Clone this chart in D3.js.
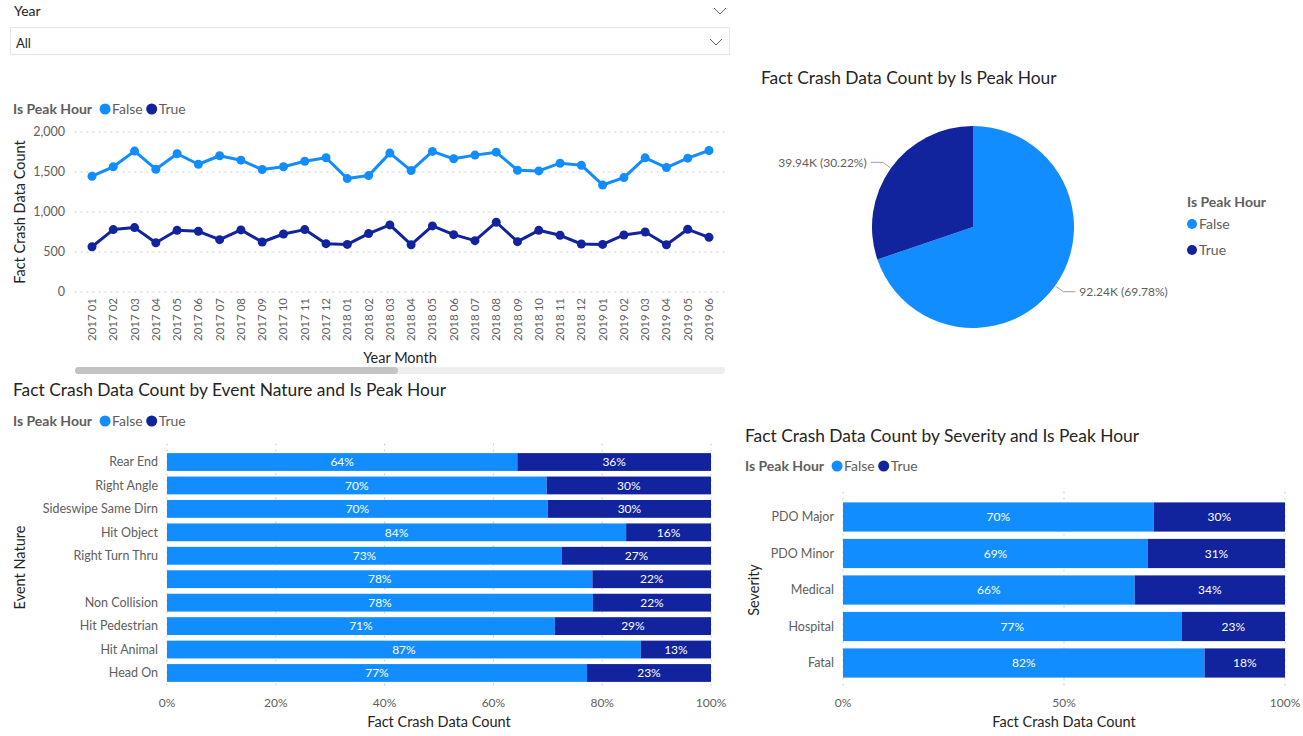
<!DOCTYPE html>
<html>
<head>
<meta charset="utf-8">
<script src="https://cdn.jsdelivr.net/npm/d3@7"></script>
<style>
  html, body { margin: 0; padding: 0; background: #fff; }
  svg { display: block; font-family: "Segoe UI", Lato, "Open Sans", sans-serif; }
</style>
</head>
<body>
<svg id="c" width="1303" height="736"></svg>
<script>
// ---------- DATA ----------
const months = ["2017 01","2017 02","2017 03","2017 04","2017 05","2017 06","2017 07","2017 08","2017 09","2017 10","2017 11","2017 12",
  "2018 01","2018 02","2018 03","2018 04","2018 05","2018 06","2018 07","2018 08","2018 09","2018 10","2018 11","2018 12",
  "2019 01","2019 02","2019 03","2019 04","2019 05","2019 06"];
const falseCounts = [1447,1565,1761,1535,1728,1597,1703,1648,1531,1565,1635,1678,
  1418,1455,1736,1518,1757,1665,1711,1748,1522,1514,1610,1585,
  1338,1430,1677,1556,1673,1769];
const trueCounts = [566,780,805,616,771,759,654,776,625,725,780,604,
  595,730,839,591,826,717,642,872,629,771,709,600,
  595,713,750,591,784,683];
const yTicks = [0,500,1000,1500,2000];

const peakLabels = ["False","True"];
const pieValues = [92240, 39940];

const eventNature = ["Rear End","Right Angle","Sideswipe Same Dirn","Hit Object","Right Turn Thru","","Non Collision","Hit Pedestrian","Hit Animal","Head On"];
const eventFalseShare = [0.644,0.698,0.700,0.844,0.726,0.782,0.783,0.713,0.871,0.772];
const eventTrueShare  = [0.356,0.302,0.300,0.156,0.274,0.218,0.217,0.287,0.129,0.228];
const eventTicks = [0,0.2,0.4,0.6,0.8,1];

const severity = ["PDO Major","PDO Minor","Medical","Hospital","Fatal"];
const sevFalseShare = [0.703,0.690,0.660,0.766,0.818];
const sevTrueShare  = [0.297,0.310,0.340,0.234,0.182];
const sevTicks = [0,0.5,1];

// ---------- STYLE ----------
const C_FALSE = "#118DFF", C_TRUE = "#12239E";
const colors = [C_FALSE, C_TRUE];
const DARK = "#252423", GREY = "#605E5C", GRID = "#C8C8C8";
const TITLE_SIZE = 17.4, LEG_SIZE = 14;

const svg = d3.select("#c");

// ---------- SLICER ----------
function chevron(x, y) {
  svg.append("path").attr("d", `M${x-6},${y-3} L${x},${y+3} L${x+6},${y-3}`)
    .attr("fill","none").attr("stroke","#605E5C").attr("stroke-width",1);
}
svg.append("text").attr("x",14).attr("y",16).attr("fill",DARK).attr("font-size",14).text("Year");
chevron(720, 11);
svg.append("rect").attr("x",10.5).attr("y",27.5).attr("width",719).attr("height",27)
  .attr("fill","#fff").attr("stroke","#E6E6E6");
svg.append("text").attr("x",16).attr("y",48).attr("fill",DARK).attr("font-size",13).text("All");
chevron(716, 42);

// ---------- LEGEND helper ----------
function legend(x, y) {
  const g = svg.append("g").attr("transform",`translate(${x},${y})`);
  const t0 = g.append("text").attr("x",0).attr("y",0).attr("dy","0.35em").attr("font-size",LEG_SIZE)
    .attr("font-weight","bold").attr("fill",GREY).text("Is Peak Hour");
  const w = t0.node().getComputedTextLength();
  let cx = w + 13;
  peakLabels.forEach((lab, i) => {
    g.append("circle").attr("cx",cx).attr("cy",0).attr("r",5.5).attr("fill",colors[i]);
    const tx = g.append("text").attr("x",cx+7).attr("y",0).attr("dy","0.35em").attr("font-size",LEG_SIZE)
      .attr("fill",GREY).text(lab);
    cx += 7 + tx.node().getComputedTextLength() + 9;
  });
}

// ---------- LINE CHART ----------
legend(13, 109);
const lx = d3.scalePoint().domain(months).range([92, 709]);
const ly = d3.scaleLinear().domain([0,2000]).range([292, 132]);
const lg = svg.append("g");
yTicks.forEach(t => {
  lg.append("line").attr("x1",75).attr("x2",725).attr("y1",ly(t)).attr("y2",ly(t))
    .attr("stroke",GRID).attr("stroke-dasharray","1,5").attr("stroke-linecap","round");
  lg.append("text").attr("x",65).attr("y",ly(t)).attr("dy","0.35em").attr("text-anchor","end")
    .attr("font-size",12.5).attr("fill",GREY).text(d3.format(",")(t));
});
months.forEach(m => {
  lg.append("text").attr("transform",`translate(${lx(m)+4},298) rotate(-90)`)
    .attr("text-anchor","end").attr("font-size",11.5).attr("fill",GREY).text(m);
});
[falseCounts, trueCounts].forEach((arr, i) => {
  const line = d3.line().x((d, j) => lx(months[j])).y(d => ly(d));
  lg.append("path").datum(arr).attr("d", line).attr("fill","none")
    .attr("stroke",colors[i]).attr("stroke-width",3).attr("stroke-linejoin","round");
  lg.selectAll(null).data(arr).enter().append("circle")
    .attr("cx",(d,j)=>lx(months[j])).attr("cy",d=>ly(d)).attr("r",4.5).attr("fill",colors[i]);
});
svg.append("text").attr("x",400).attr("y",363).attr("text-anchor","middle").attr("font-size",14.5)
  .attr("fill",DARK).text("Year Month");
svg.append("text").attr("transform","translate(25,212) rotate(-90)").attr("text-anchor","middle")
  .attr("font-size",14.5).attr("fill",DARK).text("Fact Crash Data Count");
svg.append("rect").attr("x",75).attr("y",367).attr("width",650).attr("height",7).attr("rx",3.5).attr("fill","#EEEEEE");
svg.append("rect").attr("x",75).attr("y",367).attr("width",323).attr("height",7).attr("rx",3.5).attr("fill","#C3C3C3");

// ---------- PIE ----------
svg.append("text").attr("x",761).attr("y",84).attr("font-size",TITLE_SIZE).attr("fill",DARK)
  .text("Fact Crash Data Count by Is Peak Hour");
const cx = 973, cy = 227, r = 101;
const pie = d3.pie().sort(null).value(d => d)(pieValues);
const arc = d3.arc().innerRadius(0).outerRadius(r);
const pg = svg.append("g").attr("transform",`translate(${cx},${cy})`);
pg.selectAll("path").data(pie).enter().append("path").attr("d",arc).attr("fill",(d,i)=>colors[i]);
const total = d3.sum(pieValues);
pie.forEach((d, i) => {
  const a = (d.startAngle + d.endAngle) / 2;
  const p0 = [Math.sin(a)*(r+1), -Math.cos(a)*(r+1)];
  const p1 = [Math.sin(a)*(r*1.1), -Math.cos(a)*(r*1.1)];
  const right = Math.sin(a) > 0;
  const p2 = [p1[0] + (right ? 12 : -12), p1[1]];
  pg.append("polyline").attr("points",[p0,p1,p2].map(p=>p.join(",")).join(" "))
    .attr("fill","none").attr("stroke","#A0A0A0").attr("stroke-width",1);
  const lab = d3.format(".2f")(d.data/1000) + "K (" + d3.format(".2f")(d.data/total*100) + "%)";
  pg.append("text").attr("x", p2[0] + (right ? 4 : -4)).attr("y", p2[1]).attr("dy","0.35em")
    .attr("text-anchor", right ? "start" : "end").attr("font-size",12).attr("fill",GREY).text(lab);
});
// pie legend
svg.append("text").attr("x",1187).attr("y",202).attr("dy","0.35em").attr("font-size",LEG_SIZE)
  .attr("font-weight","bold").attr("fill",GREY).text("Is Peak Hour");
peakLabels.forEach((lab, i) => {
  const y = 224 + i*26;
  svg.append("circle").attr("cx",1192).attr("cy",y).attr("r",5).attr("fill",colors[i]);
  svg.append("text").attr("x",1199).attr("y",y).attr("dy","0.35em").attr("font-size",LEG_SIZE).attr("fill",GREY).text(lab);
});

// ---------- STACKED 100% BAR helper ----------
function stackBar(o) {
  svg.append("text").attr("x",o.titleX).attr("y",o.titleY).attr("font-size",TITLE_SIZE).attr("fill",DARK).text(o.title);
  legend(o.titleX, o.legendY);
  const x = d3.scaleLinear().domain([0,1]).range([o.x0, o.x1]);
  const y = d3.scaleBand().domain(o.cats.map((c,i)=>i)).range([o.y0, o.y1]).paddingInner(o.pad).paddingOuter(o.pad/2);
  const g = svg.append("g");
  o.ticks.forEach(t => {
    g.append("line").attr("x1",x(t)).attr("x2",x(t)).attr("y1",o.gridTop).attr("y2",o.gridBot)
      .attr("stroke",GRID).attr("stroke-dasharray","1,5").attr("stroke-linecap","round");
    g.append("text").attr("x",x(t)).attr("y",o.tickY).attr("text-anchor","middle").attr("font-size",12)
      .attr("fill",GREY).text(d3.format(".0%")(t));
  });
  o.cats.forEach((c, i) => {
    const yy = y(i), h = y.bandwidth();
    const f = o.f[i], tr = o.t[i];
    g.append("rect").attr("x",x(0)).attr("y",yy).attr("width",x(f)-x(0)).attr("height",h).attr("fill",C_FALSE);
    g.append("rect").attr("x",x(f)).attr("y",yy).attr("width",x(f+tr)-x(f)).attr("height",h).attr("fill",C_TRUE);
    g.append("text").attr("x",(x(0)+x(f))/2).attr("y",yy+h/2).attr("dy","0.35em").attr("text-anchor","middle")
      .attr("font-size",12).attr("fill","#fff").text(Math.round(f*100)+"%");
    g.append("text").attr("x",(x(f)+x(f+tr))/2).attr("y",yy+h/2).attr("dy","0.35em").attr("text-anchor","middle")
      .attr("font-size",12).attr("fill","#fff").text(Math.round(tr*100)+"%");
    g.append("text").attr("x",o.x0-9).attr("y",yy+h/2).attr("dy","0.35em").attr("text-anchor","end")
      .attr("font-size",12.5).attr("fill",GREY).text(c);
  });
  svg.append("text").attr("x",(o.x0+o.x1)/2).attr("y",o.xTitleY).attr("text-anchor","middle").attr("font-size",14.5)
    .attr("fill",DARK).text("Fact Crash Data Count");
  svg.append("text").attr("transform",`translate(${o.yTitleX},${(o.y0+o.y1)/2}) rotate(-90)`).attr("text-anchor","middle")
    .attr("font-size",14.5).attr("fill",DARK).text(o.yTitle);
}

stackBar({
  title: "Fact Crash Data Count by Event Nature and Is Peak Hour", titleX: 13, titleY: 396, legendY: 421,
  cats: eventNature, f: eventFalseShare, t: eventTrueShare, ticks: eventTicks,
  x0: 167, x1: 711, y0: 450.3, y1: 684.7, pad: 0.24,
  gridTop: 444, gridBot: 690, tickY: 707, xTitleY: 727, yTitle: "Event Nature", yTitleX: 25
});
stackBar({
  title: "Fact Crash Data Count by Severity and Is Peak Hour", titleX: 745, titleY: 442, legendY: 466,
  cats: severity, f: sevFalseShare, t: sevTrueShare, ticks: sevTicks,
  x0: 843, x1: 1285, y0: 498.75, y1: 681.25, pad: 0.2,
  gridTop: 492, gridBot: 690, tickY: 707, xTitleY: 727, yTitle: "Severity", yTitleX: 759
});
</script>
</body>
</html>
